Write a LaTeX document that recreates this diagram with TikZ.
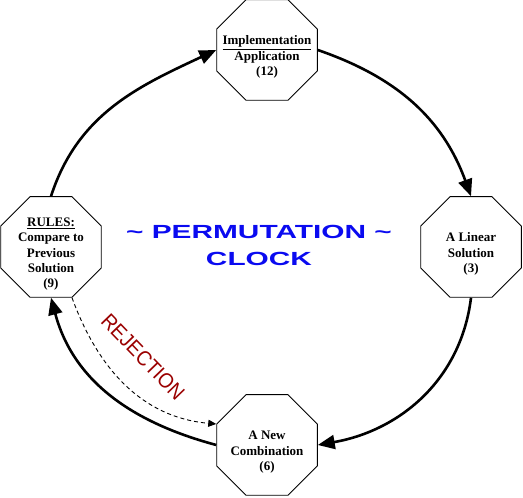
\documentclass[tikz,border=0pt]{standalone}
\usepackage{fontspec}
\setmainfont{Liberation Serif}
\newfontfamily\titlefont[FakeStretch=1.57]{Liberation Sans}
\newfontfamily\rejfont{Liberation Sans}
\usepackage{tikz}
\usetikzlibrary{arrows.meta,shapes.geometric}
\definecolor{clockblue}{HTML}{0A0AF0}
\definecolor{rejectred}{HTML}{9A0000}
\newcommand\octpad{\rule{0pt}{23pt}}

\begin{document}
\begin{tikzpicture}[x=1pt, y=1pt,
  octa/.style={regular polygon, regular polygon sides=8, minimum size=109pt, inner sep=-40pt, draw, line width=0.8pt, fill=white, align=center, font=\bfseries\fontsize{13}{15.2}\selectfont},
  flow/.style={line width=2.6pt, -{Triangle[length=17pt,width=14pt]}}]
\useasboundingbox (0,0) rectangle (523,498);
\node[octa] (impl) at (267,448) {\octpad\underline{Implementation}\\Application\\(12)};
\node[octa] (linear) at (471,251) {\octpad A Linear\\Solution\\(3)};
\node[octa] (newcomb) at (267,53) {\octpad A New\\Combination\\(6)};
\node[octa] (rules) at (51,251) {\octpad\underline{RULES:}\\Compare to\\Previous\\Solution\\(9)};
\node[align=center, text=clockblue, font=\titlefont\bfseries\fontsize{19}{27}\selectfont] (title) at (259,253) {\char`\~{} PERMUTATION \char`\~\\CLOCK};
\node[text=rejectred, rotate=-46, xscale=0.92, font=\rejfont\fontsize{21}{21}\selectfont] (rej) at (143,141) {REJECTION};
\draw[flow] (rules.north) to[out=72, in=205] (impl.west);
\draw[flow] (impl.east) to[out=-19, in=110] (linear.north);
\draw[flow] (linear.south) to[out=-97, in=10] (newcomb.east);
\draw[flow] (newcomb.west) to[out=165, in=-75] (rules.south);
\draw[line width=0.9pt, dash pattern=on 4pt off 3pt, -{Triangle[length=8pt,width=7pt]}] (rules.corner 6) to[out=-70, in=175] (newcomb.corner 3);
\end{tikzpicture}
\end{document}
